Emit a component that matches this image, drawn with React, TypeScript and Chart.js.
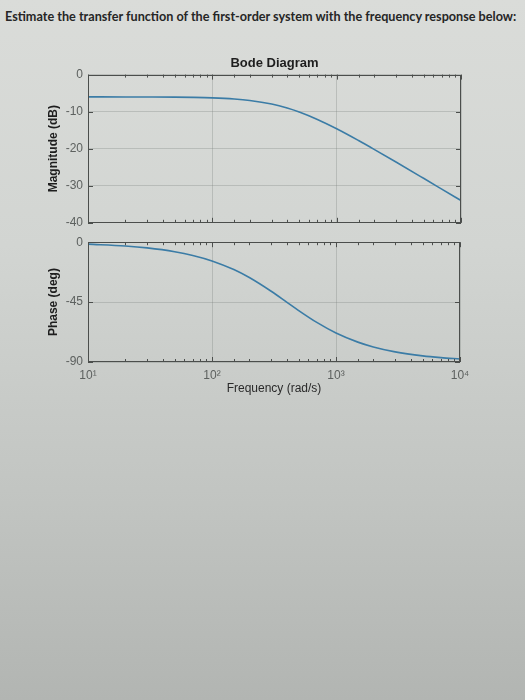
import React, { useEffect, useRef } from "react";
import { Chart, registerables } from "chart.js";

Chart.register(...registerables);

// Values
const freq = [10, 20, 30, 50, 70, 100, 150, 200, 300, 400, 500, 700, 1000, 1500, 2000, 3000, 5000, 7000, 10000];
const magnitudeDb = [-6.02, -6.03, -6.05, -6.09, -6.15, -6.28, -6.59, -6.99, -7.96, -9.03, -10.11, -12.11, -14.62, -17.8, -20.17, -23.6, -27.99, -30.9, -33.99];
const phaseDeg = [-1.43, -2.86, -4.29, -7.13, -9.93, -14.04, -20.56, -26.57, -36.87, -45, -51.34, -60.26, -68.2, -75.07, -78.69, -82.41, -85.43, -86.73, -87.71];
const freqMin = 10;
const freqMax = 10000;
const magRange = [-40, 0];
const magStep = 10;
const phaseRange = [-90, 0];
const phaseStep = 45;
const decadeLabels: Record<number, string> = { 10: "10¹", 100: "10²", 1000: "10³", 10000: "10⁴" };

const questionText = "Estimate the transfer function of the first-order system with the frequency response below:";
const chartTitle = "Bode Diagram";
const magLabel = "Magnitude (dB)";
const phaseLabel = "Phase (deg)";
const freqLabel = "Frequency (rad/s)";

const LINE = "#3b7ca6";
const FRAME = "#4b4e4c";
const GRID = "rgba(120,125,122,0.3)";
const TICKTXT = "#5d615f";

const isDecade = (v: number) => Math.abs(Math.log10(v) - Math.round(Math.log10(v))) < 1e-9;

const framePlugin = {
  id: "frameTicks",
  afterDraw(chart: any) {
    const { ctx, chartArea: a, scales } = chart;
    const xs = scales.x;
    const ys = scales.y;
    ctx.save();
    ctx.strokeStyle = FRAME;
    ctx.lineWidth = 1;
    ctx.strokeRect(Math.round(a.left) + 0.5, Math.round(a.top) + 0.5, Math.round(a.width) - 1, Math.round(a.height) - 1);
    ctx.beginPath();
    for (const t of xs.ticks) {
      const px = Math.round(xs.getPixelForValue(t.value)) + 0.5;
      const len = isDecade(t.value) ? 5 : 3;
      ctx.moveTo(px, a.top);
      ctx.lineTo(px, a.top + len);
      ctx.moveTo(px, a.bottom);
      ctx.lineTo(px, a.bottom - len);
    }
    for (const t of ys.ticks) {
      const py = Math.round(ys.getPixelForValue(t.value)) + 0.5;
      ctx.moveTo(a.left, py);
      ctx.lineTo(a.left + 5, py);
      ctx.moveTo(a.right, py);
      ctx.lineTo(a.right - 5, py);
    }
    ctx.stroke();
    ctx.restore();
  },
};

function makeConfig(values: number[], range: number[], step: number, yTitle: string, bottom: boolean): any {
  return {
    type: "line",
    data: {
      datasets: [
        {
          data: freq.map((f, i) => ({ x: f, y: values[i] })),
          borderColor: LINE,
          borderWidth: 1.6,
          pointRadius: 0,
          cubicInterpolationMode: "monotone",
          fill: false,
        },
      ],
    },
    options: {
      responsive: false,
      animation: false,
      events: [],
      layout: bottom
        ? { padding: { left: 40, right: 65, top: 7, bottom: 8 } }
        : { padding: { left: 40, right: 64, top: 56, bottom: 10 } },
      plugins: {
        legend: { display: false },
        tooltip: { enabled: false },
        title: bottom
          ? { display: false }
          : {
              display: true,
              text: chartTitle,
              fullSize: false,
              color: "#1e1e1e",
              font: { family: "'Liberation Sans', Arial, sans-serif", size: 13, weight: "bold" },
              padding: { top: 0, bottom: 3 },
            },
      },
      scales: {
        x: {
          type: "logarithmic",
          min: freqMin,
          max: freqMax,
          border: { display: false },
          grid: {
            drawTicks: false,
            color: (c: any) => (c.tick && isDecade(c.tick.value) ? GRID : "rgba(0,0,0,0)"),
          },
          ticks: {
            display: bottom,
            autoSkip: false,
            maxRotation: 0,
            padding: 6,
            color: TICKTXT,
            font: { family: "'Liberation Sans', Arial, sans-serif", size: 12 },
            callback: (v: any) => decadeLabels[Number(v)] ?? "",
          },
          title: bottom
            ? {
                display: true,
                text: freqLabel,
                color: "#2a2a2a",
                font: { family: "'Liberation Sans', Arial, sans-serif", size: 12 },
                padding: { top: 0, bottom: 6 },
              }
            : { display: false },
          afterFit: (s: any) => {
            s.height = bottom ? 40 : 0;
          },
        },
        y: {
          min: range[0],
          max: range[1],
          border: { display: false },
          grid: { drawTicks: false, color: GRID },
          ticks: {
            stepSize: step,
            padding: 5,
            color: TICKTXT,
            font: { family: "'Liberation Sans', Arial, sans-serif", size: 12 },
          },
          title: {
            display: true,
            text: yTitle,
            color: "#1e1e1e",
            font: { family: "'Liberation Sans', Arial, sans-serif", size: 12, weight: "bold" },
            padding: { top: 6, bottom: 0 },
          },
          afterFit: (s: any) => {
            s.width = 48;
          },
        },
      },
    },
    plugins: [framePlugin],
  };
}

export default function App() {
  const magRef = useRef<HTMLCanvasElement>(null);
  const phaseRef = useRef<HTMLCanvasElement>(null);

  useEffect(() => {
    const c1 = new Chart(magRef.current as HTMLCanvasElement, makeConfig(magnitudeDb, magRange, magStep, magLabel, false));
    const c2 = new Chart(phaseRef.current as HTMLCanvasElement, makeConfig(phaseDeg, phaseRange, phaseStep, phaseLabel, true));
    return () => {
      c1.destroy();
      c2.destroy();
    };
  }, []);

  return (
    <div
      style={{
        position: "fixed",
        left: 0,
        top: 0,
        width: 525,
        height: 700,
        overflow: "hidden",
        background: "linear-gradient(to bottom, #dadcd9 0%, #d2d5d2 35%, #c2c5c2 70%, #b2b5b2 100%)",
      }}
    >
      <div
        style={{
          position: "absolute",
          left: 5,
          top: 9,
          whiteSpace: "nowrap",
          fontFamily: "Lato, 'Open Sans', sans-serif",
          fontWeight: 700,
          fontSize: 12.65,
          color: "#262626",
        }}
      >
        {questionText}
      </div>
      <canvas ref={magRef} width={525} height={235} style={{ position: "absolute", left: 0, top: 0 }} />
      <canvas ref={phaseRef} width={525} height={180} style={{ position: "absolute", left: 0, top: 230 }} />
    </div>
  );
}
